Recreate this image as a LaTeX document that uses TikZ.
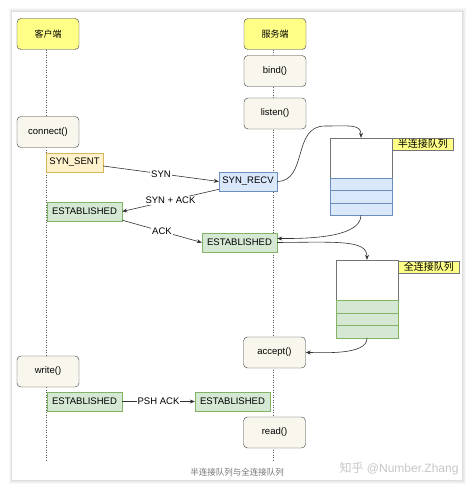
\documentclass[tikz,border=0pt]{standalone}
\usepackage{fontspec}
\setmainfont{Liberation Sans}
\newfontfamily\cjk{Noto Sans CJK SC}
\usetikzlibrary{arrows.meta,calc}

\definecolor{notefill}{HTML}{FFFF88}
\definecolor{notedraw}{HTML}{36393D}
\definecolor{funcfill}{HTML}{F9F7ED}
\definecolor{sentfill}{HTML}{FFF2CC}
\definecolor{sentdraw}{HTML}{D6B656}
\definecolor{recvfill}{HTML}{DAE8FC}
\definecolor{recvdraw}{HTML}{6C8EBF}
\definecolor{estfill}{HTML}{D5E8D4}
\definecolor{estdraw}{HTML}{82B366}
\definecolor{linecol}{HTML}{333333}

\tikzset{
  box/.style={rounded corners=4pt, draw=notedraw, minimum width=62pt, minimum height=31pt,
    inner sep=0pt, font=\fontsize{9.5}{10}\selectfont},
  head/.style={box, fill=notefill, font=\cjk\fontsize{9}{10}\selectfont},
  func/.style={box, fill=funcfill},
  state/.style={minimum height=19pt, inner sep=0pt, font=\fontsize{9.5}{10}\selectfont},
  sent/.style={state, fill=sentfill, draw=sentdraw, minimum width=57pt},
  recv/.style={state, fill=recvfill, draw=recvdraw, minimum width=58pt},
  estab/.style={state, fill=estfill, draw=estdraw, minimum width=75pt},
  queue/.style={draw=black!55, fill=white, minimum width=62pt, inner sep=0pt},
  qlabel/.style={draw=notedraw!70, fill=notefill, minimum width=61pt, minimum height=12pt,
    inner sep=0pt, anchor=north west, font=\cjk\fontsize{10}{10}\selectfont},
  lifeline/.style={draw=black!65, line width=0.8pt, dash pattern=on 1pt off 1.5pt},
  msg/.style={draw=linecol, line width=0.6pt, -{Stealth[length=5pt,width=4pt]}},
  msglabel/.style={fill=white, inner sep=1pt, font=\fontsize{9.5}{10}\selectfont}
}

\begin{document}
\begin{tikzpicture}[x=1pt,y=1pt]
\useasboundingbox (0,0) rectangle (474,-492);
% card with soft shadow
\foreach \w/\c in {7/3,5/6,3/9,1.5/13}
  \draw[black!\c, line width=\w pt] (12,-12) rectangle (462,-480);
\fill[white] (12,-12) rectangle (462,-480);

% end points of the lifelines
\coordinate (cend) at (46,-460);
\coordinate (send) at (273,-460);

% heads
\node[head] (chead) at (48,-34) {客户端};
\node[head] (shead) at (275,-34) {服务端};

% lifelines
\draw[lifeline] (chead.south -| cend) -- (cend);
\draw[lifeline] (shead.south -| send) -- (send);

% server calls
\node[func] (bind) at (275,-71) {bind()};
\node[func] (listen) at (275,-113.5) {listen()};
\node[func] (accept) at (274.5,-352.5) {accept()};
\node[func] (read) at (274.5,-432.5) {read()};

% client calls
\node[func] (connect) at (48,-132) {connect()};
\node[func] (write) at (48,-371.5) {write()};

% states
\node[sent] (synsent) at (74.5,-162.5) {SYN\_SENT};
\node[recv] (synrecv) at (248,-181.5) {SYN\_RECV};
\node[estab] (cestab1) at (84.5,-211.5) {ESTABLISHED};
\node[estab] (sestab1) at (239.5,-242.5) {ESTABLISHED};
\node[estab] (cestab2) at (84.5,-401.5) {ESTABLISHED};
\node[estab] (sestab2) at (232.5,-401.5) {ESTABLISHED};

% half queue
\node[queue, minimum height=77pt] (half) at (361,-176.5) {};
\foreach \i in {1,2,3}
  \draw[draw=recvdraw, fill=recvfill] ($(half.south west)+(0,{12.33*(\i-1)})$) rectangle +(62,12.33);
\node[qlabel] (halflabel) at (half.north east) {半连接队列};

% full queue
\node[queue, minimum height=78pt] (full) at (367,-299) {};
\foreach \i in {1,2,3}
  \draw[draw=estdraw, fill=estfill] ($(full.south west)+(0,{12.67*(\i-1)})$) rectangle +(62,12.67);
\node[qlabel] (fulllabel) at ($(full.north east)+(0,-1)$) {全连接队列};

% handshake
\draw[msg] (synsent.353) -- node[msglabel] {SYN} (synrecv.west);
\draw[msg] (synrecv.195) -- node[msglabel] {SYN + ACK} (cestab1.east);
\draw[msg] (cestab1.347) -- node[msglabel] {ACK} (sestab1.west);

% queues
\draw[msg] (synrecv.east) .. controls (308,-181) and (292,-126) .. (325,-126)
  .. controls (350,-126) and (361,-124) .. (half.north);
\draw[msg] (half.south) to[out=-90,in=0,looseness=0.7] (sestab1.6);
\draw[msg] (sestab1.east) .. controls (340,-242) and (367,-240) .. (full.north);
\draw[msg] (full.south) to[out=-90,in=0,looseness=0.7] (accept.east);

% data
\draw[msg] (cestab2.east) -- node[msglabel] {PSH ACK} (sestab2.west);

% caption
\node[text=black!55, font=\cjk\fontsize{8.5}{9}\selectfont] (caption) at (237,-472) {半连接队列与全连接队列};
\node[text=black!22, font=\fontsize{12}{12}\selectfont, anchor=east] (mark) at (462,-469) {{\cjk 知乎} @Number.Zhang};
\end{tikzpicture}
\end{document}
